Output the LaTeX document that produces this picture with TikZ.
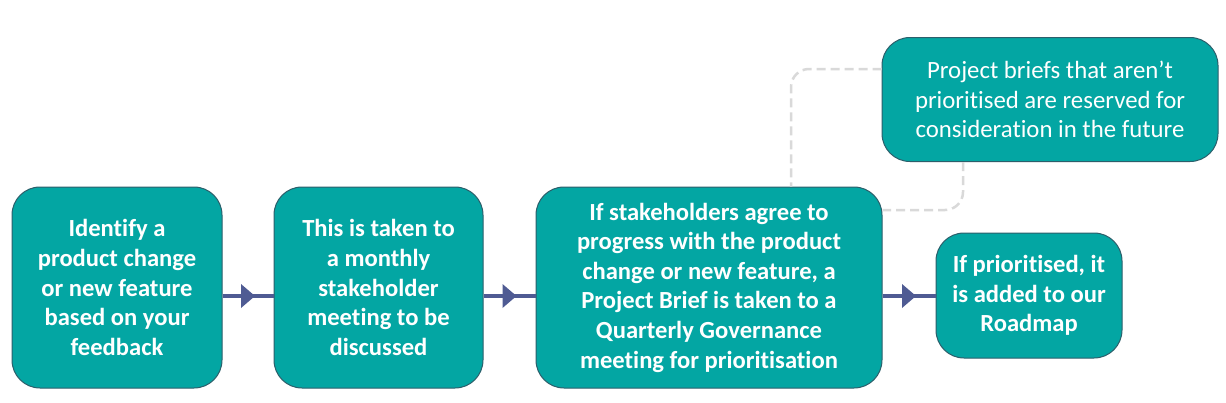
\documentclass[tikz,border=0pt]{standalone}
\usepackage{fontspec}
\setmainfont{Carlito}[Ligatures=NoCommon]
\usetikzlibrary{decorations.markings}
\definecolor{teal1}{HTML}{03A6A3}
\definecolor{edge1}{HTML}{2C5F6B}
\definecolor{arrowc}{HTML}{4F5B93}
\definecolor{dashc}{HTML}{D9D9D9}
\tikzset{
  x=1pt, y=-1pt,
  box/.style={draw=edge1, line width=1pt, fill=teal1, rounded corners=28pt,
    text=white, align=center, inner sep=0pt,
    font=\fontsize{24.6}{29.6}\selectfont\bfseries},
  notebox/.style={box, font=\fontsize{24.8}{29.2}\selectfont},
  conn/.style={draw=arrowc, line width=4.5pt,
    postaction={decorate},
    decoration={markings, mark=at position 0.5 with {\fill[arrowc] (-7,-12) -- (7,0) -- (-7,12) -- cycle;}}},
  dashline/.style={draw=dashc, line width=2.5pt, dash pattern=on 9pt off 5pt, rounded corners=18pt}
}
\begin{document}
\begin{tikzpicture}
\useasboundingbox[fill=white] (0,0) rectangle (1226,402);
\coordinate (ay) at (0,296);
\coordinate (d1) at (791,69);
\coordinate (d2) at (963,210);
\node[notebox, minimum width=336pt, minimum height=124pt] (b5) at (1050,99.5) {Project briefs that aren’t\\prioritised are reserved for\\consideration in the future};
\node[box, minimum width=210pt, minimum height=201pt] (b1) at (117,287.5) {Identify a\\product change\\or new feature\\based on your\\feedback};
\node[box, minimum width=209pt, minimum height=201pt] (b2) at (378.5,287.5) {This is taken to\\a monthly\\stakeholder\\meeting to be\\discussed};
\node[box, minimum width=346pt, minimum height=201pt] (b3) at (709,287.5) {If stakeholders agree to\\progress with the product\\change or new feature, a\\Project Brief is taken to a\\Quarterly Governance\\meeting for prioritisation};
\node[box, minimum width=186pt, minimum height=125pt] (b4) at (1029,295.5) {If prioritised, it\\is added to our\\Roadmap};
\draw[dashline] (b5.west |- d1) -- (d1) -- (d1 |- b3.north);
\draw[dashline] (b5.south -| d2) -- (d2) -- (b3.east |- d2);
\draw[conn] (b1.east |- ay) -- (b2.west |- ay);
\draw[conn] (b2.east |- ay) -- (b3.west |- ay);
\draw[conn] (b3.east |- ay) -- (b4.west |- ay);
\end{tikzpicture}
\end{document}
